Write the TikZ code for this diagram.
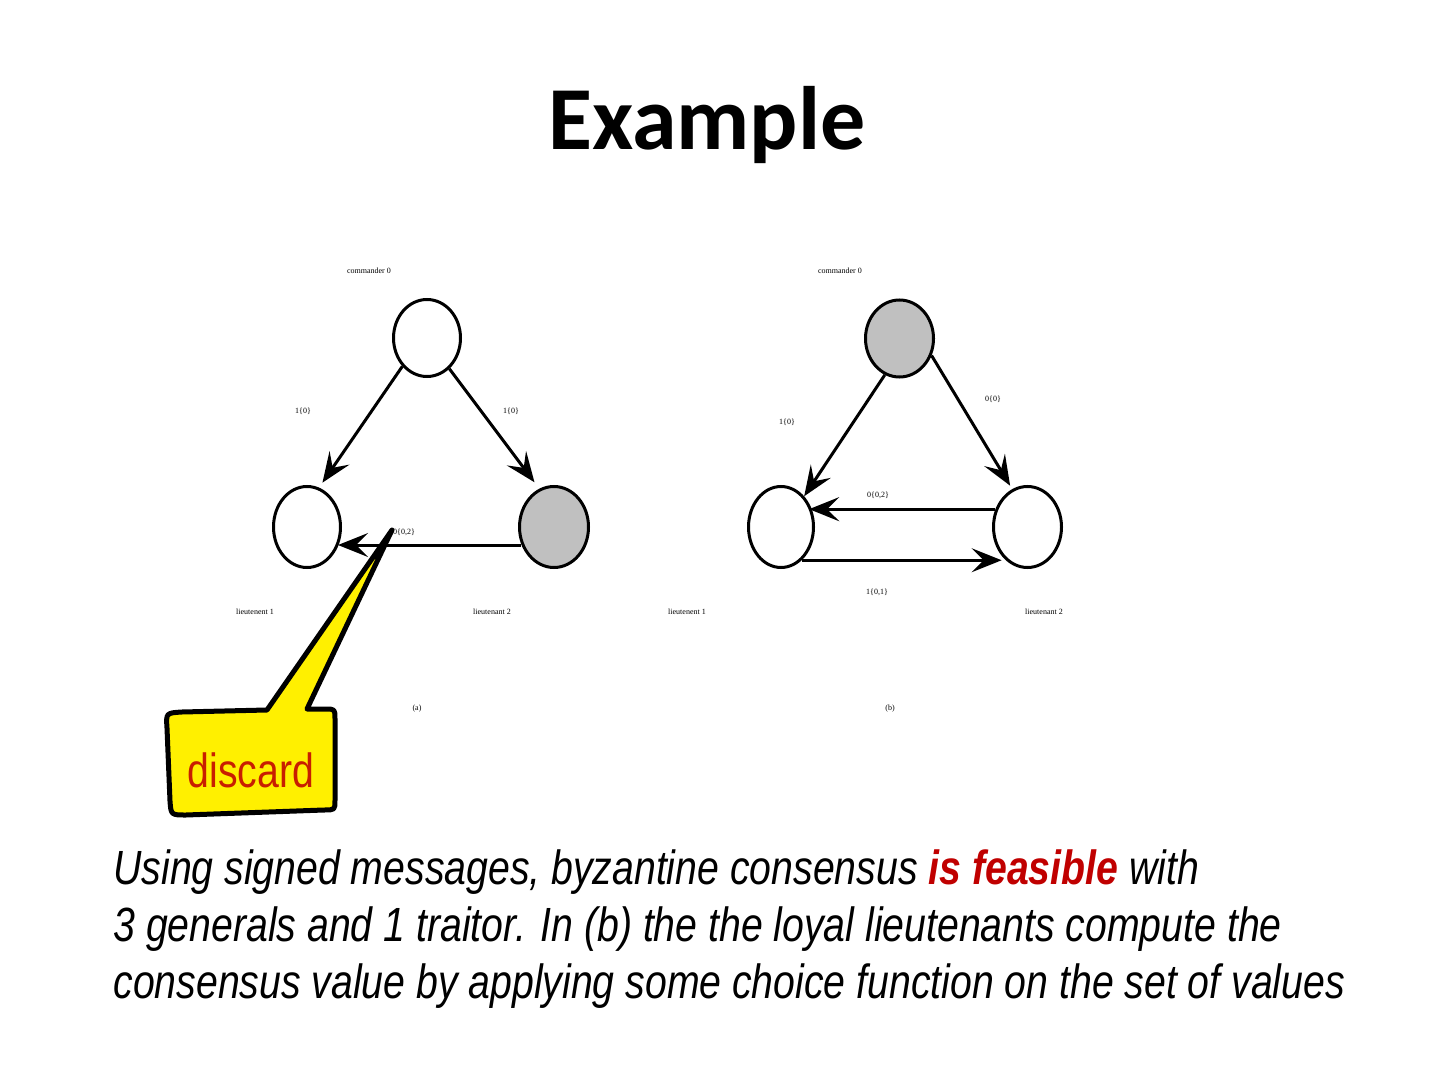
\documentclass[tikz,border=0pt]{standalone}
\usepackage{fontspec}
\usetikzlibrary{arrows.meta,shapes.geometric}
\newfontfamily\titlefont{Carlito}
\newfontfamily\bodyfont[FakeStretch=0.817]{Liberation Sans}
\newfontfamily\smallserif{Liberation Serif}
\definecolor{nodegray}{HTML}{C0C0C0}
\definecolor{callyellow}{HTML}{FFF000}
\definecolor{discred}{HTML}{C81E00}
\definecolor{feasred}{HTML}{C00000}
\begin{document}
\begin{tikzpicture}[x=0.5pt,y=-0.5pt,
  gen/.style={draw,ellipse,line width=1.5pt,inner sep=0pt,minimum width=33.5pt,minimum height=40.5pt},
  cmd/.style={gen,minimum height=38.5pt},
  arr/.style={line width=1.5pt,-{Stealth[length=15pt,width=12pt,inset=6pt]}},
  lbl/.style={font=\smallserif\fontsize{4}{5}\selectfont,inner sep=0pt},
  body/.style={font=\bodyfont\itshape\fontsize{24}{28}\selectfont,anchor=base west,inner sep=0pt},
  callout/.style={draw=black,fill=callyellow,line width=2.5pt,line join=round}
]
\path[use as bounding box] (0,0) rectangle (1440,1080);

% title
\node[font=\titlefont\bfseries\fontsize{45}{50}\selectfont,anchor=base,inner sep=0pt] (title) at (707,150) {Example};

% ---------- diagram (a)
\node[cmd] (cmdA) at (427,338) {};
\node[gen] (l1A) at (307,527) {};
\node[gen,fill=nodegray,minimum width=34.5pt] (l2A) at (554,527) {};
\draw[arr,shorten >=3pt] (cmdA.229) -- (l1A.73);
\draw[arr,shorten >=4pt] (cmdA.306) -- (l2A.111);
\draw[arr] (l2A.209) -- (l2A.209 -| l1A.328);
\node[lbl] (capA) at (369,271) {commander 0};
\node[lbl] (m1A) at (303,411) {1\{0\}};
\node[lbl] (m2A) at (511,411) {1\{0\}};
\node[lbl] (m3A) at (404,532) {0\{0,2\}};
\node[lbl] (n1A) at (255,612) {lieutenent 1};
\node[lbl] (n2A) at (492,612) {lieutenant 2};
\node[lbl] (subA) at (417,709) {(a)};

% ---------- diagram (b)
\node[cmd,fill=nodegray,minimum width=34pt] (cmdB) at (899.5,338.5) {};
\node[gen,minimum width=32.5pt] (l1B) at (781,527) {};
\node[gen,minimum width=34pt] (l2B) at (1027.5,527) {};
\draw[arr] (cmdB.248) -- (l1B.53);
\draw[arr,shorten >=2pt] (cmdB.332) -- (l2B.112);
\draw[arr] (l2B.151) -- (l2B.151 -| l1B.40);
\draw[arr] (l1B.302) -- (l1B.302 -| l2B.228);
\node[lbl] (capB) at (840,271) {commander 0};
\node[lbl] (m1B) at (993,399) {0\{0\}};
\node[lbl] (m2B) at (787,422) {1\{0\}};
\node[lbl] (m3B) at (878,495) {0\{0,2\}};
\node[lbl] (m4B) at (877,592) {1\{0,1\}};
\node[lbl] (n1B) at (687,612) {lieutenent 1};
\node[lbl] (n2B) at (1044,612) {lieutenant 2};
\node[lbl] (subB) at (890,709) {(b)};

% ---------- callout
\coordinate (tip) at (392,530);
\filldraw[callout] (tip) -- (307,709) -- (325,709)
  .. controls (335,709) .. (335,719) -- (335,800)
  .. controls (335,810) .. (324,810) -- (186,815)
  .. controls (171,815) .. (170,801) -- (167,728)
  .. controls (166,713) .. (182,712) -- (267,710) -- cycle;
\node[font=\bodyfont\fontsize{24}{28}\selectfont,text=discred,anchor=base,inner sep=0pt] (disc) at (251,787) {discard};

% ---------- text
\node[body] (t1) at (113,884) {Using signed messages, byzantine consensus \textcolor{feasred}{\bfseries is feasible} with};
\node[body] (t2) at (113,941) {3 generals and 1 traitor. In (b) the the loyal lieutenants compute the};
\node[body] (t3) at (113,998) {consensus value by applying some choice function on the set of values};
\end{tikzpicture}
\end{document}
